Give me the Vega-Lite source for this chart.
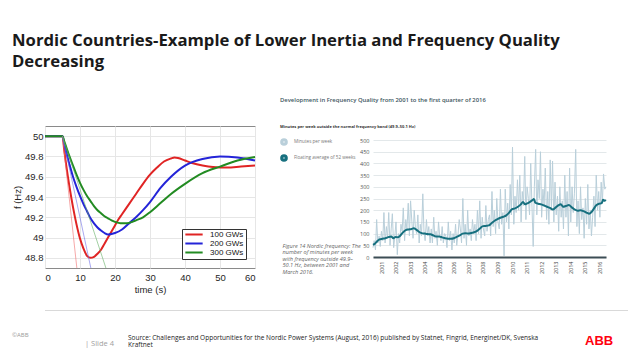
{
  "$schema": "https://vega.github.io/schema/vega-lite/v6.json",
  "background": "white",
  "padding": {"left": 12, "top": 33, "right": 0, "bottom": 0},
  "title": {
    "text": ["Nordic Countries-Example of Lower Inertia and Frequency Quality", "Decreasing"],
    "anchor": "start", "font": "Open Sans", "fontSize": 16.7, "fontWeight": "bold",
    "color": "#1a1a1a", "lineHeight": 21, "offset": 26
  },
  "config": {"view": {"stroke": null}},
  "spacing": 9,
  "resolve": {"scale": {"color": "independent"}, "legend": {"color": "independent"}},
  "datasets": {
    "freq": [
      {"t":0,"f":50,"s":"100 GWs"},{"t":5,"f":50,"s":"100 GWs"},{"t":5.5,"f":49.86,"s":"100 GWs"},{"t":6,"f":49.73,"s":"100 GWs"},{"t":7,"f":49.5,"s":"100 GWs"},{"t":8,"f":49.3,"s":"100 GWs"},{"t":9,"f":49.13,"s":"100 GWs"},{"t":10,"f":48.99,"s":"100 GWs"},{"t":11,"f":48.89,"s":"100 GWs"},{"t":12,"f":48.82,"s":"100 GWs"},{"t":13,"f":48.8,"s":"100 GWs"},{"t":14,"f":48.81,"s":"100 GWs"},{"t":15,"f":48.84,"s":"100 GWs"},{"t":16,"f":48.88,"s":"100 GWs"},{"t":17,"f":48.94,"s":"100 GWs"},{"t":18,"f":49,"s":"100 GWs"},{"t":19,"f":49.06,"s":"100 GWs"},{"t":20,"f":49.12,"s":"100 GWs"},{"t":21,"f":49.18,"s":"100 GWs"},{"t":22,"f":49.23,"s":"100 GWs"},{"t":24,"f":49.33,"s":"100 GWs"},{"t":26,"f":49.43,"s":"100 GWs"},{"t":28,"f":49.53,"s":"100 GWs"},{"t":30,"f":49.62,"s":"100 GWs"},{"t":32,"f":49.69,"s":"100 GWs"},{"t":34,"f":49.75,"s":"100 GWs"},{"t":36,"f":49.78,"s":"100 GWs"},{"t":37,"f":49.79,"s":"100 GWs"},{"t":38,"f":49.785,"s":"100 GWs"},{"t":40,"f":49.76,"s":"100 GWs"},{"t":42,"f":49.735,"s":"100 GWs"},{"t":45,"f":49.71,"s":"100 GWs"},{"t":48,"f":49.695,"s":"100 GWs"},{"t":52,"f":49.69,"s":"100 GWs"},{"t":56,"f":49.7,"s":"100 GWs"},{"t":60,"f":49.71,"s":"100 GWs"},
      {"t":0,"f":50,"s":"200 GWs"},{"t":5,"f":50,"s":"200 GWs"},{"t":5.5,"f":49.925,"s":"200 GWs"},{"t":6,"f":49.85,"s":"200 GWs"},{"t":7,"f":49.72,"s":"200 GWs"},{"t":8,"f":49.6,"s":"200 GWs"},{"t":9,"f":49.5,"s":"200 GWs"},{"t":10,"f":49.41,"s":"200 GWs"},{"t":11,"f":49.33,"s":"200 GWs"},{"t":12,"f":49.26,"s":"200 GWs"},{"t":13,"f":49.19,"s":"200 GWs"},{"t":14,"f":49.14,"s":"200 GWs"},{"t":15,"f":49.1,"s":"200 GWs"},{"t":16,"f":49.07,"s":"200 GWs"},{"t":17,"f":49.045,"s":"200 GWs"},{"t":18,"f":49.03,"s":"200 GWs"},{"t":19,"f":49.035,"s":"200 GWs"},{"t":20,"f":49.045,"s":"200 GWs"},{"t":22,"f":49.08,"s":"200 GWs"},{"t":24,"f":49.14,"s":"200 GWs"},{"t":26,"f":49.2,"s":"200 GWs"},{"t":28,"f":49.27,"s":"200 GWs"},{"t":30,"f":49.35,"s":"200 GWs"},{"t":33,"f":49.49,"s":"200 GWs"},{"t":36,"f":49.6,"s":"200 GWs"},{"t":40,"f":49.71,"s":"200 GWs"},{"t":45,"f":49.775,"s":"200 GWs"},{"t":50,"f":49.8,"s":"200 GWs"},{"t":55,"f":49.79,"s":"200 GWs"},{"t":60,"f":49.76,"s":"200 GWs"},
      {"t":0,"f":50,"s":"300 GWs"},{"t":5,"f":50,"s":"300 GWs"},{"t":5.5,"f":49.95,"s":"300 GWs"},{"t":6,"f":49.9,"s":"300 GWs"},{"t":7,"f":49.8,"s":"300 GWs"},{"t":8,"f":49.71,"s":"300 GWs"},{"t":9,"f":49.62,"s":"300 GWs"},{"t":10,"f":49.54,"s":"300 GWs"},{"t":11,"f":49.47,"s":"300 GWs"},{"t":12,"f":49.41,"s":"300 GWs"},{"t":13,"f":49.36,"s":"300 GWs"},{"t":14,"f":49.31,"s":"300 GWs"},{"t":15,"f":49.27,"s":"300 GWs"},{"t":16,"f":49.24,"s":"300 GWs"},{"t":17,"f":49.21,"s":"300 GWs"},{"t":18,"f":49.19,"s":"300 GWs"},{"t":19,"f":49.17,"s":"300 GWs"},{"t":20,"f":49.155,"s":"300 GWs"},{"t":21,"f":49.145,"s":"300 GWs"},{"t":22,"f":49.14,"s":"300 GWs"},{"t":23,"f":49.14,"s":"300 GWs"},{"t":24,"f":49.145,"s":"300 GWs"},{"t":25,"f":49.155,"s":"300 GWs"},{"t":26,"f":49.17,"s":"300 GWs"},{"t":28,"f":49.2,"s":"300 GWs"},{"t":30,"f":49.25,"s":"300 GWs"},{"t":33,"f":49.34,"s":"300 GWs"},{"t":36,"f":49.43,"s":"300 GWs"},{"t":40,"f":49.53,"s":"300 GWs"},{"t":45,"f":49.635,"s":"300 GWs"},{"t":50,"f":49.7,"s":"300 GWs"},{"t":55,"f":49.76,"s":"300 GWs"},{"t":60,"f":49.795,"s":"300 GWs"}
    ],
    "tan": [
      {"t":5,"f":50,"s":"100 GWs"},{"t":9.1,"f":48.7,"s":"100 GWs"},
      {"t":5,"f":50,"s":"200 GWs"},{"t":13.1,"f":48.7,"s":"200 GWs"},
      {"t":5,"f":50,"s":"300 GWs"},{"t":17.4,"f":48.7,"s":"300 GWs"}
    ],
    "weekly": [
      {"t":2000.45,"v":40},{"t":2000.53,"v":70},{"t":2000.62,"v":30},{"t":2000.7,"v":160},{"t":2000.78,"v":60},{"t":2000.87,"v":90},{"t":2000.95,"v":45},{"t":2001.03,"v":110},{"t":2001.12,"v":70},{"t":2001.2,"v":190},{"t":2001.28,"v":60},{"t":2001.37,"v":130},
      {"t":2001.45,"v":80},{"t":2001.53,"v":190},{"t":2001.62,"v":50},{"t":2001.7,"v":120},{"t":2001.78,"v":185},{"t":2001.87,"v":40},{"t":2001.95,"v":90},{"t":2002.03,"v":150},{"t":2002.12,"v":10},{"t":2002.2,"v":100},{"t":2002.28,"v":60},{"t":2002.37,"v":140},
      {"t":2002.45,"v":110},{"t":2002.53,"v":210},{"t":2002.62,"v":70},{"t":2002.7,"v":160},{"t":2002.78,"v":120},{"t":2002.87,"v":230},{"t":2002.95,"v":90},{"t":2003.03,"v":240},{"t":2003.12,"v":150},{"t":2003.2,"v":80},{"t":2003.28,"v":200},{"t":2003.37,"v":120},
      {"t":2003.45,"v":100},{"t":2003.53,"v":180},{"t":2003.62,"v":60},{"t":2003.7,"v":140},{"t":2003.78,"v":90},{"t":2003.87,"v":270},{"t":2003.95,"v":110},{"t":2004.03,"v":70},{"t":2004.12,"v":160},{"t":2004.2,"v":90},{"t":2004.28,"v":130},{"t":2004.37,"v":60},
      {"t":2004.45,"v":120},{"t":2004.53,"v":60},{"t":2004.62,"v":170},{"t":2004.7,"v":80},{"t":2004.78,"v":110},{"t":2004.87,"v":50},{"t":2004.95,"v":150},{"t":2005.03,"v":90},{"t":2005.12,"v":70},{"t":2005.2,"v":130},{"t":2005.28,"v":60},{"t":2005.37,"v":100},
      {"t":2005.45,"v":90},{"t":2005.53,"v":40},{"t":2005.62,"v":150},{"t":2005.7,"v":70},{"t":2005.78,"v":110},{"t":2005.87,"v":30},{"t":2005.95,"v":100},{"t":2006.03,"v":60},{"t":2006.12,"v":140},{"t":2006.2,"v":50},{"t":2006.28,"v":90},{"t":2006.37,"v":160},
      {"t":2006.45,"v":120},{"t":2006.53,"v":60},{"t":2006.62,"v":250},{"t":2006.7,"v":80},{"t":2006.78,"v":140},{"t":2006.87,"v":50},{"t":2006.95,"v":200},{"t":2007.03,"v":90},{"t":2007.12,"v":120},{"t":2007.2,"v":70},{"t":2007.28,"v":160},{"t":2007.37,"v":100},
      {"t":2007.45,"v":140},{"t":2007.53,"v":70},{"t":2007.62,"v":200},{"t":2007.7,"v":100},{"t":2007.78,"v":240},{"t":2007.87,"v":80},{"t":2007.95,"v":170},{"t":2008.03,"v":120},{"t":2008.12,"v":90},{"t":2008.2,"v":220},{"t":2008.28,"v":110},{"t":2008.37,"v":160},
      {"t":2008.45,"v":180},{"t":2008.53,"v":90},{"t":2008.62,"v":280},{"t":2008.7,"v":130},{"t":2008.78,"v":200},{"t":2008.87,"v":100},{"t":2008.95,"v":250},{"t":2009.03,"v":150},{"t":2009.12,"v":120},{"t":2009.2,"v":290},{"t":2009.28,"v":140},{"t":2009.37,"v":190},
      {"t":2009.45,"v":5},{"t":2009.53,"v":290},{"t":2009.62,"v":150},{"t":2009.7,"v":230},{"t":2009.78,"v":120},{"t":2009.87,"v":310},{"t":2009.95,"v":180},{"t":2010.03,"v":470},{"t":2010.12,"v":140},{"t":2010.2,"v":260},{"t":2010.28,"v":190},{"t":2010.37,"v":330},
      {"t":2010.45,"v":200},{"t":2010.53,"v":350},{"t":2010.62,"v":150},{"t":2010.7,"v":280},{"t":2010.78,"v":220},{"t":2010.87,"v":430},{"t":2010.95,"v":160},{"t":2011.03,"v":300},{"t":2011.12,"v":250},{"t":2011.2,"v":180},{"t":2011.28,"v":400},{"t":2011.37,"v":210},
      {"t":2011.45,"v":45},{"t":2011.53,"v":300},{"t":2011.62,"v":460},{"t":2011.7,"v":180},{"t":2011.78,"v":330},{"t":2011.87,"v":250},{"t":2011.95,"v":450},{"t":2012.03,"v":170},{"t":2012.12,"v":290},{"t":2012.2,"v":220},{"t":2012.28,"v":380},{"t":2012.37,"v":160},
      {"t":2012.45,"v":280},{"t":2012.53,"v":140},{"t":2012.62,"v":415},{"t":2012.7,"v":200},{"t":2012.78,"v":410},{"t":2012.87,"v":150},{"t":2012.95,"v":320},{"t":2013.03,"v":180},{"t":2013.12,"v":260},{"t":2013.2,"v":110},{"t":2013.28,"v":300},{"t":2013.37,"v":170},
      {"t":2013.45,"v":240},{"t":2013.53,"v":120},{"t":2013.62,"v":350},{"t":2013.7,"v":170},{"t":2013.78,"v":280},{"t":2013.87,"v":90},{"t":2013.95,"v":380},{"t":2014.03,"v":150},{"t":2014.12,"v":300},{"t":2014.2,"v":190},{"t":2014.28,"v":270},{"t":2014.37,"v":460},
      {"t":2014.45,"v":130},{"t":2014.53,"v":240},{"t":2014.62,"v":100},{"t":2014.7,"v":300},{"t":2014.78,"v":160},{"t":2014.87,"v":210},{"t":2014.95,"v":80},{"t":2015.03,"v":250},{"t":2015.12,"v":140},{"t":2015.2,"v":310},{"t":2015.28,"v":120},{"t":2015.37,"v":200},
      {"t":2015.45,"v":90},{"t":2015.53,"v":170},{"t":2015.62,"v":260},{"t":2015.7,"v":130},{"t":2015.78,"v":350},{"t":2015.87,"v":200},{"t":2015.95,"v":280},{"t":2016.03,"v":170},{"t":2016.12,"v":320},{"t":2016.2,"v":230},{"t":2016.28,"v":355},{"t":2016.37,"v":290},{"t":2016.43,"v":300}
    ],
    "avg": [
      {"t":2000.45,"v":52},{"t":2000.6,"v":58},{"t":2000.75,"v":68},{"t":2000.9,"v":75},{"t":2001.1,"v":78},{"t":2001.3,"v":80},{"t":2001.5,"v":85},{"t":2001.7,"v":88},{"t":2001.85,"v":80},{"t":2002.0,"v":86},{"t":2002.15,"v":84},{"t":2002.3,"v":90},{"t":2002.5,"v":105},{"t":2002.7,"v":115},{"t":2002.9,"v":118},{"t":2003.1,"v":120},{"t":2003.25,"v":123},{"t":2003.4,"v":118},{"t":2003.6,"v":108},{"t":2003.8,"v":102},{"t":2004.0,"v":100},{"t":2004.2,"v":98},{"t":2004.4,"v":97},{"t":2004.6,"v":92},{"t":2004.8,"v":88},{"t":2005.0,"v":88},{"t":2005.2,"v":84},{"t":2005.4,"v":80},{"t":2005.6,"v":78},{"t":2005.8,"v":78},{"t":2006.0,"v":80},{"t":2006.2,"v":86},{"t":2006.4,"v":92},{"t":2006.6,"v":100},{"t":2006.8,"v":102},{"t":2007.0,"v":100},{"t":2007.2,"v":103},{"t":2007.4,"v":106},{"t":2007.6,"v":112},{"t":2007.8,"v":122},{"t":2008.0,"v":132},{"t":2008.2,"v":133},{"t":2008.4,"v":135},{"t":2008.6,"v":145},{"t":2008.8,"v":155},{"t":2009.0,"v":162},{"t":2009.2,"v":168},{"t":2009.4,"v":172},{"t":2009.6,"v":178},{"t":2009.8,"v":190},{"t":2010.0,"v":205},{"t":2010.2,"v":208},{"t":2010.4,"v":215},{"t":2010.6,"v":225},{"t":2010.75,"v":235},{"t":2010.9,"v":225},{"t":2011.0,"v":228},{"t":2011.2,"v":235},{"t":2011.4,"v":243},{"t":2011.5,"v":248},{"t":2011.6,"v":232},{"t":2011.8,"v":228},{"t":2012.0,"v":225},{"t":2012.2,"v":220},{"t":2012.4,"v":215},{"t":2012.6,"v":210},{"t":2012.8,"v":203},{"t":2013.0,"v":212},{"t":2013.2,"v":222},{"t":2013.35,"v":225},{"t":2013.5,"v":215},{"t":2013.7,"v":218},{"t":2013.9,"v":222},{"t":2014.1,"v":212},{"t":2014.3,"v":203},{"t":2014.5,"v":198},{"t":2014.7,"v":200},{"t":2014.9,"v":196},{"t":2015.1,"v":190},{"t":2015.3,"v":185},{"t":2015.45,"v":192},{"t":2015.6,"v":205},{"t":2015.8,"v":222},{"t":2016.0,"v":228},{"t":2016.15,"v":230},{"t":2016.25,"v":245},{"t":2016.35,"v":240},{"t":2016.43,"v":245}
    ]
  },
  "vconcat": [
    {
      "spacing": 20,
      "resolve": {"scale": {"color": "independent"}, "legend": {"color": "independent"}},
      "hconcat": [
        {
          "width": 210,
          "height": 142,
          "view": {"stroke": "#8a8a8a"},
          "encoding": {
            "x": {"field": "t", "type": "quantitative",
              "scale": {"domain": [0, 60], "nice": false},
              "axis": {"values": [0,10,20,30,40,50,60], "title": "time (s)", "grid": true, "gridColor": "#e6e6e6", "ticks": false, "domain": false,
                "labelFont": "Liberation Sans", "labelFontSize": 9.5, "labelColor": "#262626", "labelPadding": 4,
                "titleFont": "Liberation Sans", "titleFontSize": 9.5, "titleFontWeight": "normal", "titleColor": "#262626", "titlePadding": 3}},
            "y": {"field": "f", "type": "quantitative",
              "scale": {"domain": [48.7, 50.1], "nice": false, "zero": false},
              "axis": {"values": [48.8,49,49.2,49.4,49.6,49.8,50], "format": "~f", "title": "f (Hz)", "grid": true, "gridColor": "#e6e6e6", "ticks": false, "domain": false,
                "labelFont": "Liberation Sans", "labelFontSize": 9.5, "labelColor": "#262626", "labelPadding": 2,
                "titleFont": "Liberation Sans", "titleFontSize": 9.5, "titleFontWeight": "normal", "titleColor": "#262626", "titlePadding": 2}}
          },
          "layer": [
            {
              "data": {"name": "freq"},
              "mark": {"type": "line", "strokeWidth": 2, "interpolate": "monotone"},
              "encoding": {
                "color": {"field": "s", "type": "nominal",
                  "scale": {"domain": ["100 GWs","200 GWs","300 GWs"], "range": ["#e02424","#2424d8","#228b22"]},
                  "legend": {"title": null, "orient": "bottom-right", "offset": 9, "fillColor": "white", "strokeColor": "#333333",
                    "padding": 2, "symbolType": "stroke", "symbolSize": 300, "symbolStrokeWidth": 2, "clipHeight": 7, "labelFont": "Liberation Sans",
                    "labelFontSize": 8, "labelColor": "#111111", "rowPadding": 0, "labelOffset": 6}}
              }
            },
            {
              "data": {"name": "tan"},
              "mark": {"type": "line", "strokeWidth": 1, "opacity": 0.6, "clip": true},
              "encoding": {
                "stroke": {"field": "s", "type": "nominal",
                  "scale": {"domain": ["100 GWs","200 GWs","300 GWs"], "range": ["#f07070","#7070e8","#66b066"]},
                  "legend": null}
              }
            }
          ]
        },
        {
          "width": 233,
          "height": 131,
          "title": {
            "text": "Development in Frequency Quality from 2001 to the first quarter of 2016",
            "subtitle": "Minutes per week outside the normal frequency band (49.9\u201350.1 Hz)",
            "anchor": "start", "font": "Open Sans", "fontSize": 5.9, "fontWeight": 600, "color": "#3d5560",
            "subtitleFont": "Open Sans", "subtitleFontSize": 4, "subtitleFontWeight": "bold", "subtitleColor": "#333333",
            "subtitlePadding": 22, "offset": -3
          },
          "encoding": {
            "x": {"field": "t", "type": "quantitative",
              "scale": {"domain": [2000.45, 2016.45], "nice": false, "zero": false},
              "axis": {"values": [2001,2002,2003,2004,2005,2006,2007,2008,2009,2010,2011,2012,2013,2014,2015,2016], "format": "d",
                "labelAngle": 270, "labelAlign": "right", "labelBaseline": "middle", "labelFont": "Open Sans", "labelFontSize": 5.5,
                "labelColor": "#444444", "labelPadding": 4, "ticks": false, "grid": false, "domainColor": "#3c4d55", "domainWidth": 2, "title": null}},
            "y": {"field": "v", "type": "quantitative",
              "scale": {"domain": [0, 560], "nice": false},
              "axis": {"values": [0,50,100,150,200,250,300,350,400,450,500], "labelFont": "Open Sans", "labelFontSize": 5.5, "labelColor": "#555555",
                "labelPadding": 4, "ticks": false, "domain": false, "gridColor": "#e3e8ea",
                "title": ["Figure 14 Nordic frequency: The", "number of minutes per week", "with frequency outside 49.9\u2013", "50.1 Hz, between 2001 and", "March 2016."],
                "titleAngle": 0, "titleAlign": "left", "titleBaseline": "top", "titleX": -91, "titleY": 117,
                "titleFont": "Open Sans", "titleFontSize": 5.6, "titleFontStyle": "italic", "titleFontWeight": "normal",
                "titleColor": "#666666", "titleLineHeight": 6.6}},
            "color": {"type": "nominal",
              "scale": {"domain": ["Minutes per week", "Floating average of 52 weeks"], "range": ["#b9cfda", "#17707f"]},
              "legend": {"title": null, "orient": "none", "legendX": -93, "legendY": 12, "symbolType": "circle", "symbolSize": 10,
                "symbolStrokeWidth": 4.5, "clipHeight": 8, "labelFont": "Open Sans", "labelFontSize": 4.6, "labelColor": "#777777", "rowPadding": 8, "labelOffset": 6}}
          },
          "layer": [
            {"data": {"name": "weekly"}, "mark": {"type": "line", "strokeWidth": 1}, "encoding": {"color": {"datum": "Minutes per week"}}},
            {"data": {"name": "avg"}, "mark": {"type": "line", "strokeWidth": 2, "interpolate": "monotone"}, "encoding": {"color": {"datum": "Floating average of 52 weeks"}}}
          ]
        }
      ]
    },
    {
      "spacing": 0,
      "hconcat": [
        {"width": 40, "height": 1, "view": {"stroke": null, "fill": "#d9d9d9"}, "data": {"values": [{}]}, "mark": "text", "encoding": {"text": {"value": ""}},
          "title": {"text": "\u00a9ABB", "orient": "bottom", "anchor": "start", "dx": -33, "font": "Open Sans", "fontSize": 6, "fontWeight": "normal", "color": "#9a9a9a", "offset": 16}},
        {"width": 43, "height": 1, "view": {"stroke": null, "fill": "#d9d9d9"}, "data": {"values": [{}]}, "mark": "text", "encoding": {"text": {"value": ""}},
          "title": {"text": "|  Slide 4", "orient": "bottom", "anchor": "start", "font": "Open Sans", "fontSize": 7.5, "fontWeight": "normal", "color": "#a0a0a0", "offset": 24}},
        {"width": 457, "height": 1, "view": {"stroke": null, "fill": "#d9d9d9"}, "data": {"values": [{}]}, "mark": "text", "encoding": {"text": {"value": ""}},
          "title": {"text": ["Source:  Challenges  and Opportunities for the Nordic Power Systems (August, 2016) published by Statnet, Fingrid, Energinet/DK, Svenska", "Kraftnet"],
            "orient": "bottom", "anchor": "start", "font": "Open Sans", "fontSize": 6.5, "fontWeight": "normal", "color": "#222222", "lineHeight": 7.5, "offset": 19}},
        {"width": 43, "height": 1, "view": {"stroke": null, "fill": "#d9d9d9"}, "data": {"values": [{}]}, "mark": "text", "encoding": {"text": {"value": ""}},
          "title": {"text": "ABB", "orient": "bottom", "anchor": "start", "font": "Liberation Sans", "fontSize": 13, "fontWeight": "bold", "color": "#ff000f", "offset": 19}}
      ]
    }
  ]
}
